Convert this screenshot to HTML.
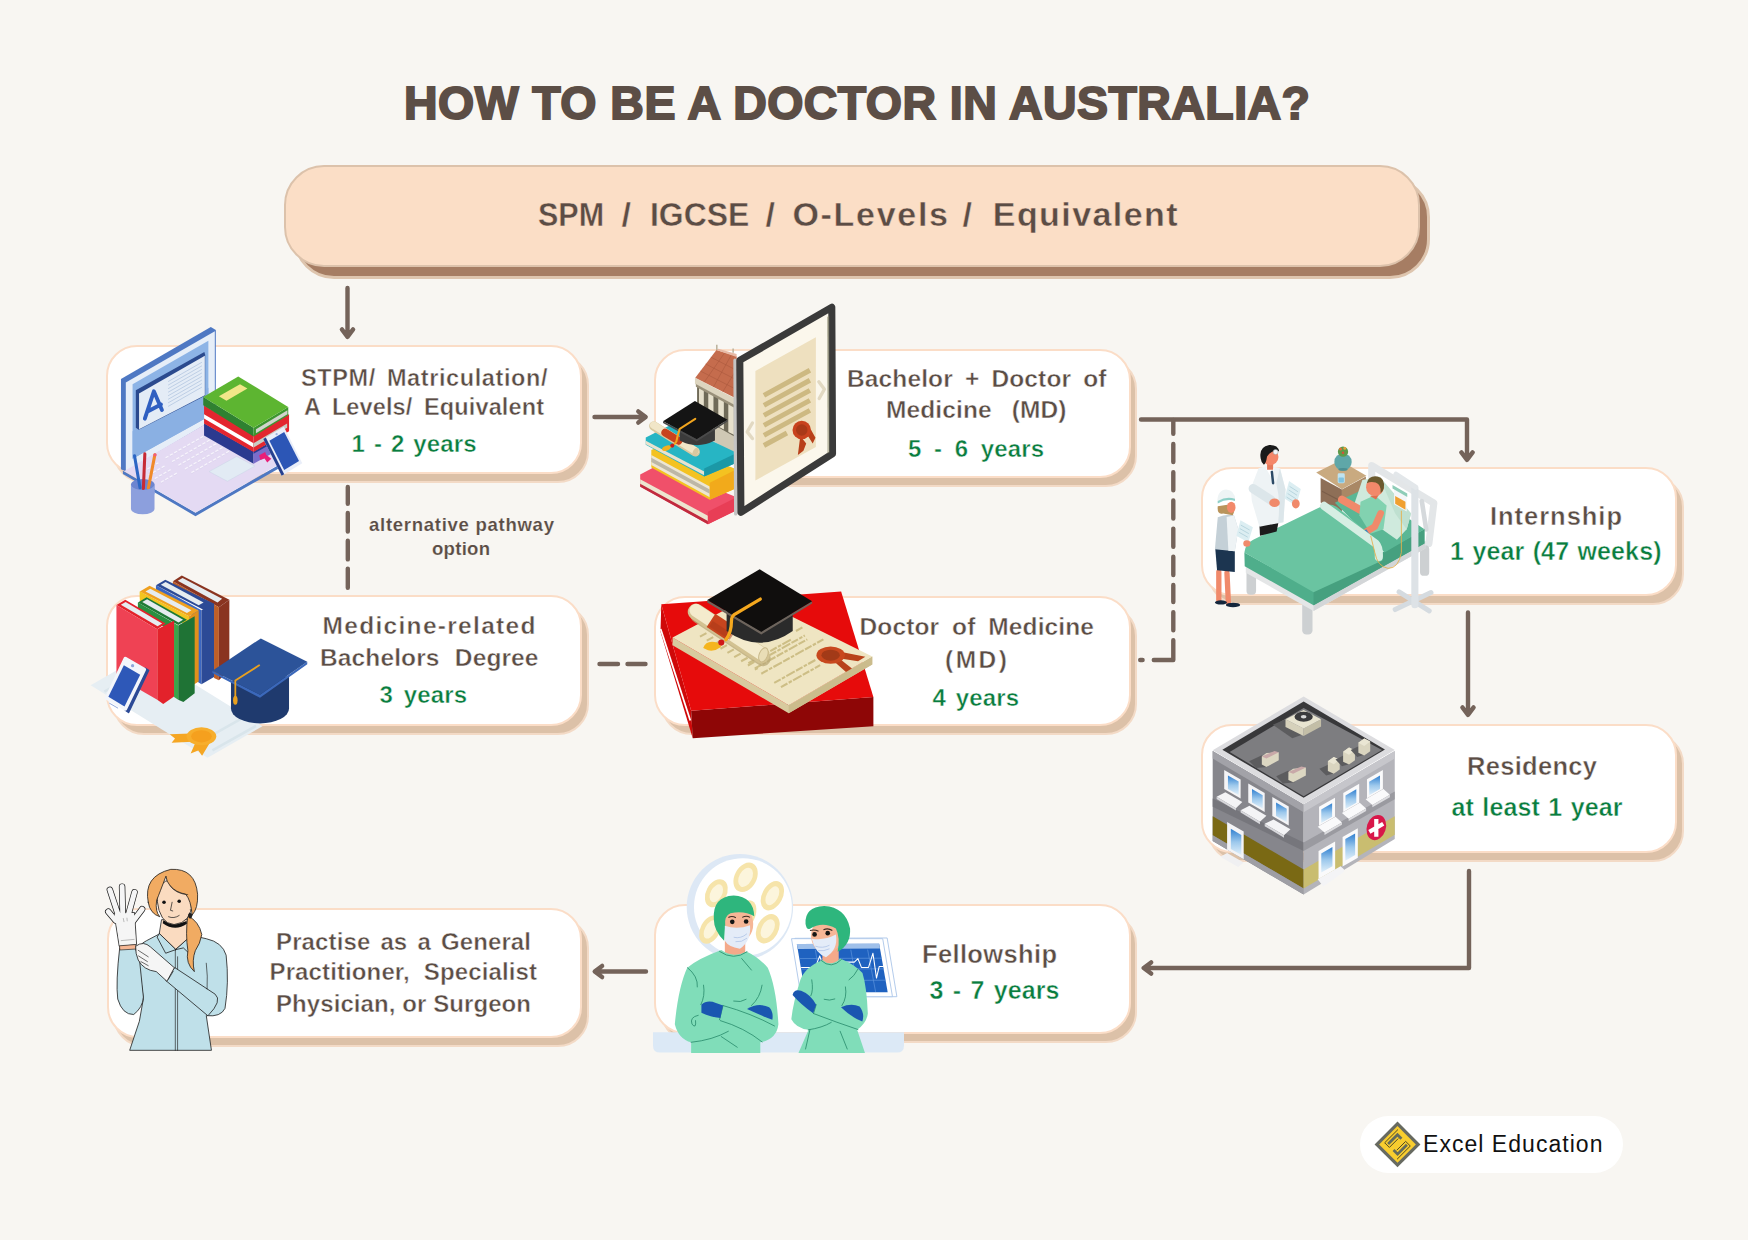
<!DOCTYPE html>
<html lang="en"><head><meta charset="utf-8"><title>How to be a doctor in Australia?</title>
<style>
html,body{margin:0;padding:0}
body{width:1748px;height:1240px;overflow:hidden;background:#F8F6F2;font-family:"Liberation Sans", sans-serif;position:relative}
.t{position:absolute;white-space:nowrap;line-height:1;margin:0}
.card{position:absolute;box-sizing:border-box;background:#fff;border:2px solid #FBDDC7;border-radius:31px}
.cs{position:absolute;box-sizing:border-box;background:#DCC1A8;border:2px solid #F3DAC6;border-radius:31px}
.ill{position:absolute;overflow:visible}
#topS{position:absolute;box-sizing:border-box;left:294px;top:177px;width:1136px;height:102px;border-radius:40px;background:#A67D63;border:3px solid #DEC5AE}
#top{position:absolute;box-sizing:border-box;left:284px;top:165px;width:1136px;height:102px;border-radius:40px;background:#FBDEC6;border:2.5px solid #DCC2AB}
#logo{position:absolute;left:1360px;top:1116px;width:263px;height:57px;border-radius:29px;background:#fff}
</style></head><body>
<div id="topS"></div><div id="top"></div>
<div class="cs" style="left:112.5px;top:353.5px;width:476px;height:129px"></div><div class="card" style="left:106px;top:344.5px;width:476px;height:129px"></div>
<div class="cs" style="left:660.5px;top:357.5px;width:476.5px;height:129px"></div><div class="card" style="left:654px;top:348.5px;width:476.5px;height:129px"></div>
<div class="cs" style="left:112.5px;top:604px;width:476px;height:130.5px"></div><div class="card" style="left:106px;top:595px;width:476px;height:130.5px"></div>
<div class="cs" style="left:660.5px;top:605px;width:476.5px;height:130px"></div><div class="card" style="left:654px;top:596px;width:476.5px;height:130px"></div>
<div class="cs" style="left:1207.5px;top:476px;width:476px;height:129px"></div><div class="card" style="left:1201px;top:467px;width:476px;height:129px"></div>
<div class="cs" style="left:1207.5px;top:732.5px;width:476px;height:129px"></div><div class="card" style="left:1201px;top:723.5px;width:476px;height:129px"></div>
<div class="cs" style="left:660.5px;top:913px;width:476.5px;height:129.5px"></div><div class="card" style="left:654px;top:904px;width:476.5px;height:129.5px"></div>
<div class="cs" style="left:113.0px;top:917px;width:475.5px;height:129.5px"></div><div class="card" style="left:106.5px;top:908px;width:475.5px;height:129.5px"></div>
<div id="logo"></div>
<svg class="ill" style="left:0;top:0" width="1748" height="1240" viewBox="0 0 1748 1240" fill="none" stroke="#74635A" stroke-width="4.4" stroke-linecap="round" stroke-linejoin="round">
<path d="M347.5 288V336M341.9 329.4L347.5 336.8L353.1 329.4"/>
<path d="M594.5 417H645M638.3 411.4L645.7 417L638.3 422.6"/>
<path d="M1141 419.5H1467V459M1461.4 452.4L1467 459.8L1472.6 452.4"/>
<path d="M1468 612.5V714M1462.4 707.4L1468 714.8L1473.6 707.4"/>
<path d="M1469 871V968H1144.5M1151.1 962.4L1143.7 968L1151.1 973.6"/>
<path d="M646 971.5H595.5M602.1 965.9L594.7 971.5L602.1 977.1"/>
<path d="M347.8 487V503.8M347.8 513V531.6M347.8 540.8V559.4M347.8 568.6V587.8"/>
<path d="M599.5 664H618M627.5 664H645.5"/>
<path d="M1173.3 420V433.8M1173.3 444V462.1M1173.3 472.2V490.3M1173.3 500.4V518.5M1173.3 528.6V546.7M1173.3 556.8V575M1173.3 585V602.1M1173.3 612.2V630.3M1173.3 640.3V660H1153.8M1142.6 660H1140.2"/>
</svg>
<svg class="ill" style="left:110px;top:320px" width="200" height="200" viewBox="0 0 1240 1240">
<!-- screen frame -->
<polygon points="68,366 625,44 656,62 656,610 100,940 68,925" fill="#4E78C3"/>
<polygon points="98,388 650,70 650,612 98,938" fill="#E6EEF8"/>
<polygon points="140,398 610,128 610,600 140,860" fill="#8DB4E6"/>
<polygon points="140,690 610,420 610,600 140,860" fill="#8AB0E3"/>
<!-- doc window -->
<polygon points="160,436 585,198 590,216 590,470 178,680 160,668" fill="#2B4A8E"/>
<polygon points="180,455 588,222 588,466 180,678" fill="#E4ECF6"/>
<g stroke="#A8BEDB" stroke-width="4" fill="none">
<path d="M360 382L570 262M360 404L570 284M360 426L570 306M360 448L570 328M360 470L570 350M360 492L570 372M360 514L570 394M360 536L570 416"/>
</g>
<path d="M216 612L272 442L322 558M236 566L316 524" stroke="#2F5FC1" stroke-width="24" stroke-linecap="round" stroke-linejoin="round" fill="none"/>
<!-- base -->
<polygon points="80,935 530,1195 1100,868 1100,890 530,1216 80,955" fill="#4E78C3"/>
<polygon points="100,930 650,612 1095,868 530,1194 88,938" fill="#E4DAF3"/>
<!-- keyboard -->
<g stroke="#F7F4FC" stroke-width="9" fill="none" stroke-dasharray="20 11">
<path d="M345 855L585 718M385 878L625 741M425 901L665 764M465 924L705 787M505 947L745 810"/>
<path d="M205 940L300 886M240 962L340 905M278 984L378 927M316 1006L416 949"/>
</g>
<g stroke="#CFC8E6" stroke-width="2.5" fill="none" stroke-dasharray="20 11">
<path d="M345 861L585 724M385 884L625 747M425 907L665 770M465 930L705 793M505 953L745 816"/>
<path d="M205 946L300 892M240 968L340 911M278 990L378 933M316 1012L416 955"/>
</g>
<polygon points="615,940 785,846 898,906 728,1000" fill="#E2EBF4" stroke="#C9D3E6" stroke-width="3"/>
<!-- books -->
<polygon points="583,640 890,815 890,892 583,716" fill="#2B3A8F"/>
<polygon points="890,815 1010,748 1010,824 890,892" fill="#7B6DCB"/>
<polygon points="890,815 1010,748 1010,762 890,830" fill="#2B3A8F"/>
<polygon points="925,838 962,818 968,836 1000,860 975,884 958,858 932,868" fill="#E91E78"/>
<polygon points="583,530 890,712 890,818 583,642" fill="#E3262F"/>
<polygon points="583,584 890,764 890,790 583,610" fill="#FFFFFF"/>
<polygon points="890,712 1110,585 1110,690 890,818" fill="#E3262F"/>
<polygon points="890,764 1098,642 1098,668 890,790" fill="#C9CCC4"/>
<polygon points="578,478 890,668 890,722 578,528" fill="#2F8131"/>
<polygon points="890,668 1105,540 1105,590 890,722" fill="#3C962E"/>
<polygon points="905,678 1100,560 1100,584 905,702" fill="#D0D5CC"/>
<polygon points="578,478 795,350 1105,540 890,668" fill="#5DB531"/>
<polygon points="675,472 806,398 852,424 722,500" fill="#F1E689"/>
<!-- phone -->
<polygon points="950,738 1078,662 1192,888 1064,966" fill="#E9EEF9"/>
<polygon points="950,738 966,729 1080,956 1064,966" fill="#26408F"/>
<polygon points="988,748 1080,694 1172,874 1080,930" fill="#2C56B6"/>
<circle cx="1033" cy="708" r="7" fill="#9DB2DD"/>
<!-- cup + pencils -->
<path d="M130 1020V1170A72 34 0 0 0 276 1170V1020Z" fill="#8C9FDD"/>
<ellipse cx="203" cy="1020" rx="73" ry="34" fill="#6C84D0"/>
<path d="M152 842L186 1040" stroke="#2C66C4" stroke-width="19" stroke-linecap="round"/>
<path d="M216 830L207 1045" stroke="#C62A36" stroke-width="19" stroke-linecap="round"/>
<path d="M278 836L238 1042" stroke="#F08A2A" stroke-width="19" stroke-linecap="round"/>
<circle cx="279" cy="836" r="10" fill="#F25C7A"/>
<path d="M130 1020A73 34 0 0 0 276 1020V1080H130Z" fill="#8C9FDD"/>
</svg>

<svg class="ill" style="left:630px;top:295px" width="230" height="230" viewBox="0 0 1240 1240">
<!-- temple -->
<polygon points="362,490 575,602 575,860 362,740" fill="#CFC8B4"/><polygon points="362,490 575,602 575,770 362,650" fill="#6F6A58"/>
<g fill="#E6E0CC">
<polygon points="372,496 398,510 398,668 372,654"/><polygon points="422,522 450,537 450,695 422,680"/>
<polygon points="476,551 506,567 506,725 476,709"/><polygon points="530,580 560,596 560,754 530,738"/>
</g>
<polygon points="350,446 575,562 575,600 350,480" fill="#DDD5BF"/>
<polygon points="355,480 575,598 575,614 355,494" fill="#9A917A"/>
<polygon points="352,446 466,296 575,330 575,560" fill="#C56C4D"/>
<g stroke="#A9563B" stroke-width="3" fill="none"><path d="M380,410 575,510M408,372 575,458M436,335 575,406M400,470 510,312M450,496 545,325M500,522 575,400"/></g>
<polygon points="466,296 476,290 575,318 575,334" fill="#E7B9A5"/>
<path d="M468 296V268M556 312V288" stroke="#B9B09A" stroke-width="8"/>
<!-- red book -->
<polygon points="55,968 150,918 575,1090 575,1160 420,1236 55,1032" fill="#F0506A"/>
<polygon points="55,994 420,1190 420,1222 55,1022" fill="#EDE5D0"/>
<polygon points="55,1018 420,1218 420,1236 55,1034" fill="#C12A3E"/>
<polygon points="420,1168 575,1090 575,1160 420,1236" fill="#E83E56"/>
<!-- yellow book -->
<polygon points="115,836 200,795 575,940 575,1040 430,1104 115,930" fill="#F4C221"/>
<polygon points="115,862 430,1032 430,1090 115,916" fill="#EDE6D2"/>
<polygon points="115,878 430,1048 430,1072 115,900" fill="#BDB7A6"/>
<polygon points="430,1012 575,940 575,1040 430,1104" fill="#F2AA1B"/>
<!-- teal book -->
<polygon points="85,768 240,690 575,850 575,905 400,978 85,808" fill="#27B5C4"/>
<polygon points="85,786 400,952 400,972 85,804" fill="#EAE2CE"/>
<polygon points="400,936 575,852 575,905 400,978" fill="#1B98A6"/>
<!-- scroll -->
<path d="M128 706L352 846" stroke="#D8C9A0" stroke-width="50" stroke-linecap="round"/>
<path d="M128 702L352 840" stroke="#F1E6C8" stroke-width="40" stroke-linecap="round"/>
<path d="M190 742L262 786" stroke="#C8421E" stroke-width="42" stroke-linecap="round"/>
<ellipse cx="354" cy="845" rx="14" ry="22" transform="rotate(30 354 845)" fill="#D9C8A0"/>
<!-- cap -->
<path d="M268 725V785Q360 835 458 785V725Z" fill="#3B3B3B"/>
<polygon points="178,680 350,572 526,672 360,778" fill="#141414"/>
<polygon points="178,680 360,778 526,672 526,682 360,790 178,690" fill="#4A4A4A"/>
<path d="M352 668L268 722Q255 760 250 790Q235 815 205 822" stroke="#F2A51E" stroke-width="11" fill="none" stroke-linecap="round"/>
<ellipse cx="196" cy="826" rx="24" ry="13" transform="rotate(-20 196 826)" fill="#F2B01E"/>
<circle cx="228" cy="812" r="11" fill="#C8201E"/>
<!-- tablet -->
<path d="M566 352L570 1180" stroke="#C4C4C4" stroke-width="18" stroke-linecap="round"/>
<polygon points="592,352 1088,66 1092,856 598,1172" fill="#FBF7EC" stroke="#3A3A3A" stroke-width="38" stroke-linejoin="round"/>
<polygon points="1062,118 1074,110 1076,848 1064,856" fill="#8C8A6E" opacity=".55"/>
<polygon points="676,410 1002,228 1002,820 676,1000" fill="#EEE0BF"/>
<g stroke="#CDB982" stroke-width="27" fill="none">
<path d="M722 541L970 406M722 595L970 460M722 649L970 514M722 703L970 568M722 757L970 622M722 811L846 744"/>
</g>
<path d="M918 760L905 862L935 840L950 800ZM950 745L985 800L1000 770L975 725Z" fill="#B8401A"/>
<circle cx="926" cy="728" r="50" fill="#C8421E"/>
<circle cx="926" cy="728" r="31" fill="#A93918"/>
<path d="M660 690L632 738L660 774" stroke="#E2D9C2" stroke-width="18" fill="none" stroke-linecap="round" stroke-linejoin="round"/>
<path d="M1018 468L1048 508L1020 558" stroke="#E2D9C2" stroke-width="18" fill="none" stroke-linecap="round" stroke-linejoin="round"/>
</svg>

<svg class="ill" style="left:85px;top:565px" width="230" height="200" viewBox="0 0 1426 1240">
<!-- paper -->
<polygon points="35,745 375,550 1100,1000 760,1195" fill="#E6EEF3"/>
<g stroke="#D9E5EB" stroke-width="16" fill="none"><path d="M120 785L455 595M700 1105L1000 935M790 1150L1060 998"/></g>
<!-- brown -->
<polygon points="545,100 800,245 800,300 545,155" fill="#BF5F28"/>
<polygon points="545,100 600,65 895,215 830,262" fill="#8A3420"/><polygon points="575,98 605,80 850,210 822,232" fill="#E6ECF0"/>
<polygon points="800,245 830,262 830,715 800,700" fill="#BF5F28"/><polygon points="830,262 895,215 895,650 830,715" fill="#8A3420"/>
<!-- blue -->
<polygon points="440,125 700,268 700,330 440,185" fill="#3B67C2"/>
<polygon points="440,125 498,92 800,240 740,280" fill="#2C4A96"/><polygon points="470,122 500,105 735,232 705,250" fill="#E6ECF0"/>
<polygon points="700,268 722,280 722,740 700,725" fill="#3B67C2"/><polygon points="722,280 800,238 800,695 722,740" fill="#2C4A96"/>
<!-- orange -->
<polygon points="340,165 645,318 645,380 340,225" fill="#F3C41F"/>
<polygon points="340,165 400,128 705,282 645,318" fill="#EFA01F"/><polygon points="375,165 405,148 660,280 632,298" fill="#E6ECF0"/>
<polygon points="340,165 372,183 372,226 340,208" fill="#F3C41F"/>
<polygon points="645,318 705,282 705,722 645,760" fill="#E0901C"/>
<!-- green -->
<polygon points="328,232 552,360 552,420 328,290" fill="#2A9040"/>
<polygon points="328,232 382,200 632,340 578,372" fill="#1F7A35"/><polygon points="355,230 385,213 608,340 580,357" fill="#E6ECF0"/>
<polygon points="552,360 578,375 578,835 552,818" fill="#3AA64A"/><polygon points="578,375 680,318 680,795 610,850 578,835" fill="#1F7335"/>
<!-- red -->
<polygon points="448,398 552,345 552,815 485,862 448,835" fill="#E3222B"/>
<polygon points="195,248 250,215 500,362 448,398" fill="#E3222B"/><polygon points="222,246 252,229 478,362 450,380" fill="#E6ECF0"/>
<polygon points="195,248 448,398 448,835 195,690" fill="#EF4254"/>
<!-- phone -->
<polygon points="372,640 394,654 270,914 250,900" fill="#2C4A96" stroke="#2C4A96" stroke-width="10" stroke-linejoin="round"/>
<polygon points="250,580 368,648 250,892 134,824" fill="#F3F6FB" stroke="#F3F6FB" stroke-width="22" stroke-linejoin="round"/>
<polygon points="241,622 342,681 245,878 145,817" fill="#2E58B8"/>
<circle cx="295" cy="624" r="10" fill="#8FA6DA"/>
<path d="M150 856L205 888" stroke="#8FA6DA" stroke-width="6"/>
<!-- cap -->
<path d="M905 720V890A180 92 0 0 0 1265 890V690Z" fill="#1F3A6E"/>
<polygon points="790,655 1085,805 1378,600 1378,616 1085,823 790,670" fill="#3B68BA"/>
<polygon points="790,655 1090,455 1378,600 1085,805" fill="#2C5399"/>
<path d="M1080 622L932 716V815" stroke="#E8A020" stroke-width="11" fill="none" stroke-linecap="round" stroke-linejoin="round"/>
<ellipse cx="932" cy="838" rx="14" ry="28" fill="#E8A020"/>
<!-- badge -->
<polygon points="655,1045 525,1050 558,1076 537,1102 665,1096" fill="#F5A623"/>
<polygon points="690,1090 655,1168 702,1150 726,1182 775,1100" fill="#F5A623"/>
<ellipse cx="722" cy="1062" rx="92" ry="56" fill="#F7AE2C"/>
<ellipse cx="722" cy="1062" rx="64" ry="38" fill="#F5A01E"/>
</svg>

<svg class="ill" style="left:650px;top:560px" width="230" height="200" viewBox="0 0 1426 1240">
<!-- red book -->
<polygon points="70,275 255,935 265,1105 65,445" fill="#CF0909"/>
<path d="M66 428L250 995" stroke="#FFFFFF" stroke-width="11"/>
<polygon points="255,935 1385,850 1385,1030 265,1105" fill="#8E0606"/>
<polygon points="70,275 1185,195 1385,850 255,935" fill="#E60B0B"/>
<!-- document -->
<polygon points="140,480 860,900 1378,598 1378,648 860,950 140,528" fill="#D8CA9E"/>
<polygon points="860,900 1378,598 1378,648 860,950" fill="#CBBC8C"/>
<polygon points="140,480 625,225 1378,598 860,900" fill="#EFE5C2"/>
<g stroke="#CDBE86" stroke-width="13" fill="none" stroke-dasharray="46 9 22 9 60 9">
<path d="M690 705L1075 492M650 672L975 492M610 640L880 490M770 762L1025 620M812 788L1055 652M742 590L960 468M905 440L945 418"/>
</g>
<g stroke="#CDBE86" stroke-width="13" fill="none">
<path d="M310 475L350 453M352 500L392 478M395 525L435 503M437 550L477 528M480 576L520 554M522 602L562 580M565 628L605 606M607 654L647 632M650 680L668 670"/>
</g>
<!-- seal -->
<polygon points="1195,572 1335,600 1290,628 1190,612" fill="#B8421A"/>
<polygon points="1140,628 1215,695 1252,672 1180,615" fill="#B8421A"/>
<ellipse cx="1120" cy="590" rx="88" ry="54" fill="#C8481E"/>
<ellipse cx="1120" cy="590" rx="57" ry="34" fill="#A23A18"/>
<!-- scroll -->
<path d="M300 345L700 610" stroke="#B9A878" stroke-width="96" stroke-linecap="round" opacity=".75"/>
<path d="M285 322L690 590" stroke="#D3C292" stroke-width="102" stroke-linecap="round"/>
<path d="M285 312L690 580" stroke="#F4EBCD" stroke-width="80" stroke-linecap="round"/>
<path d="M378 375L505 458" stroke="#C8451E" stroke-width="98" stroke-linecap="butt"/>
<path d="M378 395L505 478" stroke="#A8391A" stroke-width="40" stroke-linecap="butt" opacity=".5"/>
<ellipse cx="703" cy="588" rx="26" ry="46" transform="rotate(22 703 588)" fill="#E9DDB6" stroke="#C9B98A" stroke-width="6"/>
<!-- cap -->
<path d="M475 320V440Q680 585 885 440V330Z" fill="#2B2B2B"/>
<polygon points="355,248 690,445 1005,255 1005,270 690,462 355,263" fill="#6D645C"/>
<polygon points="355,248 680,58 1005,255 690,445" fill="#100E0D"/>
<path d="M684 242L522 338Q505 350 505 380Q505 450 470 495" stroke="#F5A81E" stroke-width="20" fill="none" stroke-linecap="round"/>
<path d="M330 545Q345 500 400 508Q440 515 440 540Q400 570 360 560Z" fill="#F5B51E"/>
<circle cx="442" cy="512" r="19" fill="#D01818"/>
</svg>

<svg class="ill" style="left:1200px;top:430px" width="250" height="220" viewBox="0 0 1409 1240">
<!-- nightstand -->
<polygon points="680,270 800,336 800,470 680,408" fill="#8E6F57"/>
<polygon points="800,336 935,262 935,345 800,425" fill="#A98865"/>
<polygon points="655,240 790,172 938,258 800,334" fill="#C9AA80"/>
<path d="M688 345L795 402" stroke="#7A5E4A" stroke-width="6"/>
<rect x="776" y="244" width="40" height="56" rx="8" fill="#BFE3F0"/><rect x="781" y="268" width="30" height="28" rx="5" fill="#7FC3E0"/>
<circle cx="806" cy="180" r="49" fill="#5FA7A8"/><ellipse cx="806" cy="222" rx="26" ry="8" fill="#4C8F92"/>
<circle cx="806" cy="122" r="29" fill="#5E9A4A"/><circle cx="792" cy="108" r="8" fill="#E0703A"/><circle cx="816" cy="104" r="8" fill="#E8A03A"/><circle cx="806" cy="128" r="7" fill="#D8503A"/>
<!-- headboard -->
<path d="M968 430V200L1318 412L1290 640" stroke="#E3E6E8" stroke-width="40" fill="none" stroke-linejoin="round" stroke-linecap="round"/>
<path d="M1250 400L1275 560" stroke="#D5D9DC" stroke-width="26" stroke-linecap="round"/>
<!-- legs -->
<rect x="1240" y="650" width="52" height="172" rx="22" fill="#CDD0D2"/>
<rect x="262" y="760" width="54" height="168" rx="22" fill="#CDD0D2"/>
<rect x="576" y="960" width="58" height="192" rx="24" fill="#CDD0D2"/>
<!-- frame -->
<polygon points="258,760 640,975 1270,625 1270,668 640,1020 258,805" fill="#E4E6E7"/>
<polygon points="640,975 1270,625 1270,668 640,1020" fill="#D3D6D8"/>
<!-- mattress -->
<path d="M250 690L640 908L1265 560V640L640 988L252 768Z" fill="#4FAE8B"/>
<path d="M640 908L1265 560V640L640 988Z" fill="#46A07F"/>
<polygon points="760,410 930,330 1265,560 1040,690" fill="#5AB795"/>
<!-- pillow -->
<polygon points="915,282 1010,262 1190,470 1165,560 1110,618 1010,548 872,410" fill="#CFEADD"/>
<polygon points="1010,262 1190,470 1165,560 1100,470" fill="#BFE0D0"/>
<!-- patient -->
<path d="M800 392L905 452" stroke="#F08A6B" stroke-width="44" stroke-linecap="round"/>
<polygon points="905,405 985,368 1052,425 1034,560 962,585 898,480" fill="#82D2B0"/>
<path d="M1018 470L985 545L905 592" stroke="#F08A6B" stroke-width="38" fill="none" stroke-linecap="round" stroke-linejoin="round"/>
<path d="M928 566L948 596" stroke="#3F7FC0" stroke-width="22"/>
<path d="M958 372L992 392L1010 362Z" fill="#E0704F"/>
<circle cx="986" cy="322" r="50" fill="#F2896A"/>
<path d="M940 300Q950 255 1000 262Q1045 270 1036 330Q1030 350 1018 356Q1024 310 990 296Q960 290 940 300Z" fill="#6B5A2E"/>
<!-- blanket -->
<path d="M250 690Q255 640 300 618L690 428Q730 410 770 432L1005 628Q1030 650 1028 700V735L640 915Z" fill="#6AC4A1"/>
<path d="M700 428L990 640Q1010 660 1008 715" stroke="#D6EEE3" stroke-width="46" fill="none" stroke-linecap="round"/>
<!-- IV -->
<path d="M1122 912L1292 1020M1100 1012L1302 916" stroke="#D5DBE0" stroke-width="28" stroke-linecap="round"/>
<path d="M1211 330V985" stroke="#DDE2E6" stroke-width="40" stroke-linecap="round"/>
<path d="M1105 250L1215 322" stroke="#E3E7EA" stroke-width="30" stroke-linecap="round"/>
<polygon points="1094,330 1165,372 1165,460 1094,418" fill="#F4F6F8"/>
<polygon points="1100,372 1158,405 1158,450 1100,416" fill="#F0A030"/>
<polygon points="1085,310 1168,358 1168,378 1085,330" fill="#8FCDB8"/>
<path d="M1135 455V690Q1120 780 1060 780Q1000 770 985 690L962 596" stroke="#E5B04E" stroke-width="5" fill="none"/>
<!-- doctor -->
<polygon points="335,540 442,522 432,572 338,596" fill="#1C1C1C"/>
<path d="M330 215Q390 195 452 215L482 335L470 520L335 545L292 400L286 330Z" fill="#EEF3F5"/>
<path d="M450 215L482 335L470 520L440 524Q455 400 430 300Z" fill="#DCE6EA"/>
<path d="M300 330L400 395" stroke="#DCE6EA" stroke-width="52" stroke-linecap="round"/>
<path d="M372 215L398 262L420 215Z" fill="#FFFFFF"/>
<path d="M405 236L412 300" stroke="#2C4A66" stroke-width="14" stroke-linecap="round"/>
<polygon points="502,288 568,332 542,428 476,386" fill="#DCEEF2"/>
<g stroke="#A9CBD6" stroke-width="4"><path d="M505 318L552 348M500 338L547 368M494 358L541 388M488 378L535 408"/></g>
<ellipse cx="420" cy="410" rx="30" ry="24" fill="#F08A6B"/><ellipse cx="540" cy="416" rx="22" ry="26" fill="#F08A6B"/>
<rect x="378" y="180" width="34" height="44" fill="#E67A5C"/>
<circle cx="396" cy="152" r="46" fill="#F4876A"/>
<path d="M342 160Q330 95 390 84Q440 82 446 120Q400 110 378 150Q372 190 360 196Q345 185 342 160Z" fill="#1A1A1A"/>
<circle cx="426" cy="124" r="14" fill="#F4F6F8" stroke="#9AA" stroke-width="3"/>
<!-- nurse -->
<path d="M106 800V960M152 806L160 975" stroke="#F08A6B" stroke-width="30" stroke-linecap="round"/>
<ellipse cx="118" cy="972" rx="34" ry="12" fill="#14263C"/><ellipse cx="186" cy="986" rx="40" ry="13" fill="#14263C"/>
<polygon points="86,668 196,680 196,800 96,790" fill="#1C3550"/>
<path d="M100 492Q150 470 192 482L216 560L196 684L84 672Z" fill="#C4D0D7"/>
<path d="M150 490L192 482L216 560L196 684L160 680Z" fill="#EEF3F5"/>
<polygon points="228,508 298,548 272,634 205,596" fill="#DCEEF2"/>
<g stroke="#A9CBD6" stroke-width="4"><path d="M230 536L280 564M225 556L275 584M219 576L269 604"/></g>
<ellipse cx="264" cy="640" rx="20" ry="18" fill="#F08A6B"/>
<path d="M100 430Q95 480 130 470L185 480Q200 450 190 415Z" fill="#B9945B"/>
<ellipse cx="176" cy="436" rx="24" ry="32" fill="#F2896A"/>
<path d="M98 410Q95 340 148 336Q198 340 198 395Q150 380 98 410Z" fill="#EEF4F5"/>
<path d="M100 400Q150 372 197 388V400Q150 385 100 414Z" fill="#8FD0C8"/>
</svg>

<svg class="ill" style="left:1200px;top:690px" width="210" height="210" viewBox="0 0 1240 1240">
<defs>
<linearGradient id="gl" x1="0" y1="0" x2="0" y2="1"><stop offset="0" stop-color="#2F7FD0"/><stop offset=".5" stop-color="#9CC8EC"/><stop offset="1" stop-color="#E2F0FA"/></linearGradient>
</defs>
<!-- walls -->
<polygon points="75,360 612,676 612,1208 75,892" fill="#86868C"/>
<polygon points="612,676 1150,360 1150,880 612,1208" fill="#B4B4BA"/>
<polygon points="75,360 612,676 612,722 75,405" fill="#A2A2A8"/>
<polygon points="612,676 1150,360 1150,405 612,722" fill="#C6C6CB"/>
<polygon points="75,640 612,900 612,950 75,690" fill="#76767C"/>
<polygon points="612,900 1150,600 1150,645 612,950" fill="#9A9AA0"/>
<polygon points="75,745 612,1060 612,1172 75,858" fill="#7A6914"/>
<polygon points="612,1060 1150,745 1150,855 612,1172" fill="#C9BD70"/>
<polygon points="75,858 612,1172 612,1208 75,892" fill="#9E9EA4"/>
<!-- roof -->
<polygon points="75,356 612,38 1150,354 612,674" fill="#DCDCDF"/>
<polygon points="132,353 612,68 1092,352 612,636" fill="#38383A"/>
<polygon points="175,366 612,106 1075,354 612,628" fill="#7D7D80"/>
<!-- AC -->
<polygon points="430,205 505,172 612,262 545,285" fill="#5C5C5E"/>
<polygon points="505,172 612,228 612,272 505,218" fill="#D6D1BB"/><polygon points="612,228 715,172 715,216 612,272" fill="#C3BEA7"/>
<polygon points="505,172 612,118 715,172 612,228" fill="#E8E4D0"/>
<ellipse cx="612" cy="158" rx="54" ry="30" fill="#3A3A3C"/><ellipse cx="612" cy="158" rx="17" ry="10" fill="#D8D8D8"/>
<!-- vents -->
<polygon points="290,420 365,385 400,455 330,460" fill="#5C5C5E"/>
<polygon points="365,392 392,372 465,368 465,415 392,455 365,440" fill="#DCD7C2"/><polygon points="365,392 440,360 465,368 392,405" fill="#C8A8A8"/>
<polygon points="450,510 522,475 560,545 490,552" fill="#5C5C5E"/>
<polygon points="522,484 550,465 625,458 625,505 550,545 522,532" fill="#DCD7C2"/><polygon points="522,484 598,452 625,458 550,495" fill="#C8A8A8"/>
<g>
<polygon points="705,465 760,440 800,490 745,505" fill="#5C5C5E"/><polygon points="755,420 790,395 825,412 825,470 790,495 755,478" fill="#DAD5C0"/><polygon points="755,420 790,395 825,412 790,438" fill="#EAE6D4"/>
<polygon points="800,410 850,385 890,435 838,450" fill="#5C5C5E"/><polygon points="845,365 880,340 915,357 915,415 880,440 845,423" fill="#DAD5C0"/><polygon points="845,365 880,340 915,357 880,383" fill="#EAE6D4"/>
<polygon points="890,355 940,330 980,380 928,395" fill="#5C5C5E"/><polygon points="935,312 970,287 1005,304 1005,362 970,387 935,370" fill="#DAD5C0"/><polygon points="935,312 970,287 1005,304 970,330" fill="#EAE6D4"/>
</g>
<!-- left windows -->
<g id="wl">
<polygon points="143,472 240,528 240,640 143,584" fill="#F4F4F6"/><polygon points="165,505 228,541 228,620 165,584" fill="url(#gl)"/>
<polygon points="98,630 150,604 250,662 212,698" fill="#F4F4F6"/><polygon points="98,630 212,698 212,712 98,644" fill="#D8D8DC"/>
</g>
<use href="#wl" transform="translate(142,80)"/><use href="#wl" transform="translate(284,160)"/>
<!-- left door -->
<polygon points="160,780 258,836 258,1000 160,944" fill="#F4F4F6"/><polygon points="182,820 244,856 244,975 182,939" fill="url(#gl)"/>
<polygon points="120,985 160,962 258,1018 225,1045" fill="#F0F0F2"/>
<!-- right windows -->
<g id="wr">
<polygon points="703,690 797,636 797,748 703,802" fill="#FAFAFB"/><polygon points="716,705 780,668 780,748 716,785" fill="url(#gl)"/>
<polygon points="695,808 800,748 838,782 735,842" fill="#FAFAFB"/><polygon points="735,842 838,782 838,796 735,856" fill="#DDDDE0"/>
</g>
<use href="#wr" transform="translate(143,-82)"/><use href="#wr" transform="translate(283,-163)"/>
<!-- right doors -->
<polygon points="700,950 798,894 798,1060 700,1116" fill="#FAFAFB"/><polygon points="716,965 782,927 782,1040 716,1078" fill="url(#gl)"/>
<polygon points="842,868 932,816 932,990 842,1042" fill="#FAFAFB"/><polygon points="858,880 916,847 916,975 858,1008" fill="url(#gl)"/>
<polygon points="695,1118 830,1040 850,1058 850,1075 728,1160" fill="#F4F4F6"/>
<!-- cross -->
<ellipse cx="1041" cy="812" rx="56" ry="76" transform="rotate(18 1041 812)" fill="#D8184A"/>
<path d="M1000 838L1082 790M1041 762V866" stroke="#FFFFFF" stroke-width="25"/>
</svg>

<svg class="ill" style="left:645px;top:845px" width="270" height="220" viewBox="0 0 1522 1240">
<!-- platform -->
<path d="M45 1055H1460V1130Q1460 1170 1420 1170H85Q45 1170 45 1130Z" fill="#DCE9F6"/>
<!-- lamp -->
<circle cx="535" cy="350" r="300" fill="#DDE8F5"/>
<circle cx="552" cy="350" r="276" fill="#FFFFFF"/>
<g fill="#F6E4AA">
<ellipse cx="567" cy="182" rx="62" ry="88" transform="rotate(28 567 182)"/><ellipse cx="402" cy="272" rx="58" ry="84" transform="rotate(28 402 272)"/>
<ellipse cx="718" cy="286" rx="58" ry="88" transform="rotate(28 718 286)"/><ellipse cx="692" cy="472" rx="60" ry="88" transform="rotate(28 692 472)"/>
<ellipse cx="368" cy="476" rx="55" ry="86" transform="rotate(28 368 476)"/><ellipse cx="560" cy="400" rx="58" ry="95" transform="rotate(28 560 400)"/>
</g>
<g fill="#FCF5DC">
<ellipse cx="567" cy="182" rx="36" ry="58" transform="rotate(28 567 182)"/><ellipse cx="402" cy="272" rx="32" ry="54" transform="rotate(28 402 272)"/>
<ellipse cx="718" cy="286" rx="32" ry="58" transform="rotate(28 718 286)"/><ellipse cx="692" cy="472" rx="34" ry="58" transform="rotate(28 692 472)"/>
<ellipse cx="368" cy="476" rx="30" ry="56" transform="rotate(28 368 476)"/>
</g>
<!-- monitor -->
<polygon points="845,526 1365,524 1420,855 900,855" fill="#FFFFFF" stroke="#A9C4E8" stroke-width="5"/>
<polygon points="826,528 1340,528 1395,855 880,855" fill="#FFFFFF" stroke="#A9C4E8" stroke-width="5"/>
<polygon points="856,558 1320,556 1368,830 902,830" fill="#1F62C0"/>
<polygon points="856,558 1320,556 1325,584 861,586" fill="#9FC0EA"/>
<g stroke="#5C94DC" stroke-width="4" fill="none"><path d="M868 640L1336 638M880 700L1346 698M890 765L1358 762M960 590L1000 828M1060 590L1100 828M1160 590L1202 828M1255 590L1300 828"/></g>
<path d="M880 690H960L985 625L1010 705L1030 660H1180L1200 640L1220 690H1260L1285 610L1305 750L1320 685H1345" stroke="#FFFFFF" stroke-width="6" fill="none" stroke-linejoin="round"/>
<!-- surgeon 1 -->
<path d="M450 520H565V640H450Z" fill="#F4A98A"/>
<path d="M430 592Q300 640 238 692Q188 800 168 1010Q190 1095 260 1112V1172H650V1112Q742 1095 752 1010Q740 800 692 692Q640 632 572 600Q500 640 430 592Z" fill="#80DDB9"/>
<g stroke="#2F9272" stroke-width="5" fill="none" stroke-linecap="round">
<path d="M420 600Q500 655 575 602M545 640L600 705M240 692Q300 740 295 800M660 790Q650 860 600 905M330 790Q340 850 315 900M440 905Q600 950 730 1020M420 985L440 905M425 990Q560 1030 660 1110M300 960Q250 970 265 1010Q290 1040 285 990M500 880Q540 890 570 870M260 1112Q380 1100 470 1050M430 1080L520 1140"/>
</g>
<path d="M318 900Q350 870 400 890L440 905L425 975Q370 970 318 945Z" fill="#1A56B0"/>
<path d="M575 925Q640 885 700 915Q725 940 718 985Q650 960 575 925Z" fill="#1A56B0"/>
<ellipse cx="528" cy="445" rx="82" ry="102" fill="#F6B696"/>
<path d="M388 420Q378 290 500 284Q612 290 616 402Q560 368 482 384Q446 400 452 452L446 540Q388 482 388 420Z" fill="#2EB67D"/>
<path d="M450 455Q520 480 592 452Q600 540 535 585Q470 575 450 540Z" fill="#E4ECF8"/>
<path d="M500 520Q540 530 575 500M510 545Q545 550 575 525" stroke="#B5C8E8" stroke-width="5" fill="none"/>
<circle cx="492" cy="433" r="13" fill="#151515"/><circle cx="570" cy="431" r="13" fill="#151515"/>
<path d="M470 408Q492 398 512 410M548 408Q572 396 592 408" stroke="#3A2A22" stroke-width="6" fill="none"/>
<!-- surgeon 2 -->
<path d="M1000 580H1092V680H1000Z" fill="#F4A98A"/>
<path d="M1000 648Q900 690 875 762Q832 900 825 982Q850 1032 922 1042L865 1172H1240L1196 1042Q1250 1002 1256 950Q1250 800 1226 722Q1180 672 1100 640Q1050 690 1000 648Z" fill="#80DDB9"/>
<g stroke="#2F9272" stroke-width="5" fill="none" stroke-linecap="round">
<path d="M992 650Q1050 705 1108 645M940 760Q950 820 935 850M1150 760Q1180 740 1200 700M1130 800Q1140 860 1110 905M950 950Q1080 1000 1200 1040M965 900L950 950M1010 870Q1040 880 1070 868M920 1042Q1000 1030 1050 1000M930 1040L905 1150M1100 1050Q1120 1100 1140 1150"/>
</g>
<path d="M832 845Q840 810 880 822Q930 840 965 900L948 948Q880 900 832 845Z" fill="#1A56B0"/>
<path d="M1105 915Q1160 890 1210 910Q1240 950 1225 995Q1160 970 1105 915Z" fill="#1A56B0"/>
<ellipse cx="1022" cy="512" rx="86" ry="98" fill="#F6B696"/>
<path d="M905 445Q898 350 1010 344Q1130 350 1156 470Q1162 560 1086 602Q1102 522 1076 470Q1000 428 930 472Q912 482 905 445Z" fill="#2EB67D"/>
<path d="M940 528Q1010 540 1076 505Q1090 590 1020 632Q960 610 940 528Z" fill="#E4ECF8"/>
<path d="M960 570Q1000 585 1040 565M975 595Q1010 600 1040 585" stroke="#B5C8E8" stroke-width="5" fill="none"/>
<circle cx="956" cy="504" r="13" fill="#151515"/><circle cx="1030" cy="497" r="13" fill="#151515"/>
<path d="M930 482Q955 474 978 486M1006 478Q1032 466 1056 482" stroke="#3A2A22" stroke-width="6" fill="none"/>
</svg>

<svg class="ill" style="left:95px;top:860px" width="150" height="200" viewBox="0 0 930 1240">
<g stroke="#1E1E1E" stroke-width="5" stroke-linejoin="round" stroke-linecap="round">
<!-- torso -->
<path d="M400 458L320 500Q262 520 268 620L300 860L275 1000L215 1180H722L690 965Q780 975 806 920Q832 760 813 590Q790 510 690 488L600 468L500 556Z" fill="#BFE0E9"/>
<!-- left raised arm -->
<path d="M153 545Q128 760 141 862Q170 960 240 958Q296 915 300 850L276 620L250 548Z" fill="#BFE0E9"/>
<!-- neck -->
<path d="M415 370H582L600 470L500 556L400 460Z" fill="#FADBC0"/>
<path d="M420 392Q495 446 570 396L568 378Q495 412 424 374Z" fill="#111" stroke="none"/>
<!-- collar -->
<path d="M398 458L385 478L438 578L500 556Z" fill="#BFE0E9"/>
<path d="M600 468L612 490L585 580L548 545L500 556Z" fill="#BFE0E9"/>
<path d="M498 556V1180M512 600V1180" fill="none" stroke-width="4"/>
<!-- right forearm -->
<path d="M496 668L745 832Q792 872 700 966L440 748Z" fill="#BFE0E9"/>
<path d="M690 640Q700 720 695 800" fill="none" stroke-width="4"/>
<!-- ponytail -->
<path d="M575 345Q645 380 662 462Q652 520 622 562Q600 622 616 692Q560 642 576 562Q560 462 575 345Z" fill="#F1AB62"/>
<!-- face -->
<path d="M385 250Q380 130 480 120Q600 125 600 260Q600 390 490 400Q400 395 385 250Z" fill="#FADBC0"/>
<path d="M598 250Q625 255 612 300Q600 320 590 310" fill="#FADBC0"/>
<!-- hair top -->
<path d="M330 262Q298 100 470 58Q622 50 636 212Q640 300 602 342Q596 250 562 212Q500 200 466 160Q442 132 440 100Q402 200 382 250Q372 320 402 352Q340 332 330 262Z" fill="#F1AB62"/>
<path d="M466 160Q500 210 575 215" fill="none" stroke-width="4"/>
<ellipse cx="590" cy="345" rx="10" ry="16" fill="#222"/>
</g>
<circle cx="428" cy="262" r="11" fill="#111"/><circle cx="522" cy="256" r="11" fill="#111"/>
<path d="M478 262L468 312L482 316M456 352Q490 366 522 344" stroke="#1E1E1E" stroke-width="4.5" fill="none" stroke-linecap="round"/>
<!-- raised glove -->
<g stroke="#1E1E1E" stroke-width="40" stroke-linecap="round" fill="none">
<path d="M145 345L92 185M172 330L168 165M208 335L245 200M232 385L292 305M128 375L82 320"/>
</g>
<path d="M118 330L245 325L258 525L150 535Z" fill="#F5F5F5" stroke="#1E1E1E" stroke-width="5" stroke-linejoin="round"/>
<g stroke="#F5F5F5" stroke-width="31" stroke-linecap="round" fill="none">
<path d="M145 345L92 185M172 330L168 165M208 335L245 200M232 385L292 305M128 375L82 320"/>
</g>
<path d="M124 336L240 332L252 518L154 528Z" fill="#F5F5F5"/>
<path d="M152 532L252 524L254 552L154 558Z" fill="#F6B794" stroke="#1E1E1E" stroke-width="4"/>
<path d="M160 500L245 492M175 360L180 385M198 358L200 380" stroke="#9A9A9A" stroke-width="4" fill="none"/>
<!-- right gloved hand -->
<path d="M252 535Q300 498 345 540L492 668L446 752L380 692Q300 682 268 620Q250 580 252 535Z" fill="#F5F5F5" stroke="#1E1E1E" stroke-width="5" stroke-linejoin="round"/>
<path d="M268 560L330 600M270 595L325 630M285 630L330 655M455 740L485 690" stroke="#1E1E1E" stroke-width="4" fill="none" stroke-linecap="round"/>
</svg>

<svg class="ill" style="left:1370px;top:1118px" width="55" height="54" viewBox="0 0 55 54">
<g transform="translate(27.5,26.4) rotate(-45)">
<rect x="-16.2" y="-16.2" width="32.4" height="32.4" fill="#676A61"/>
<rect x="-13" y="-13" width="26" height="26" fill="#F8CD2F"/>
<path d="M-6.4 -6.9H6.8V-1.2M6.4 6.9H-6.8V1.2" stroke="#636B5B" stroke-width="2.7" fill="none"/>
<path d="M10.8 -10.2H-7.9V-3.6H4.6M-10.8 10.2H7.9V3.6H-4.6" stroke="#4A4420" stroke-width="0.9" fill="none"/>
</g>
</svg>

<h1 class="t" style="left:404.0px;top:80.3px;font-size:46.5px;font-weight:700;color:#5C4E46;letter-spacing:0.449px;-webkit-text-stroke:1.9px #5C4E46;">HOW TO BE A DOCTOR IN AUSTRALIA?</h1>
<div class="t" style="left:537.5px;top:197.2px;font-size:34px;font-weight:700;color:#5B4D45;letter-spacing:0.000px;transform:scaleX(0.8970);transform-origin:0 0;-webkit-text-stroke:0.45px #FBDEC6;">SPM</div>
<div class="t" style="left:621.5px;top:197.2px;font-size:34px;font-weight:700;color:#5B4D45;letter-spacing:0.000px;-webkit-text-stroke:0.45px #FBDEC6;">/</div>
<div class="t" style="left:650.4px;top:197.2px;font-size:34px;font-weight:700;color:#5B4D45;letter-spacing:0.000px;transform:scaleX(0.9375);transform-origin:0 0;-webkit-text-stroke:0.45px #FBDEC6;">IGCSE</div>
<div class="t" style="left:765.5px;top:197.2px;font-size:34px;font-weight:700;color:#5B4D45;letter-spacing:0.000px;-webkit-text-stroke:0.45px #FBDEC6;">/</div>
<div class="t" style="left:792.4px;top:197.2px;font-size:34px;font-weight:700;color:#5B4D45;letter-spacing:1.711px;-webkit-text-stroke:0.45px #FBDEC6;">O-Levels</div>
<div class="t" style="left:962.6px;top:197.2px;font-size:34px;font-weight:700;color:#5B4D45;letter-spacing:0.000px;-webkit-text-stroke:0.45px #FBDEC6;">/</div>
<div class="t" style="left:992.8px;top:197.2px;font-size:34px;font-weight:700;color:#5B4D45;letter-spacing:1.429px;-webkit-text-stroke:0.45px #FBDEC6;">Equivalent</div>
<div class="t" style="left:301.0px;top:366.6px;font-size:23.5px;font-weight:700;color:#5B4D45;letter-spacing:0.600px;-webkit-text-stroke:0.45px #FFFFFF;word-spacing:3.991px;">STPM/ Matriculation/</div>
<div class="t" style="left:304.0px;top:396.1px;font-size:23.5px;font-weight:700;color:#5B4D45;letter-spacing:0.120px;-webkit-text-stroke:0.45px #FFFFFF;word-spacing:5.016px;">A Levels/ Equivalent</div>
<div class="t" style="left:351.5px;top:432.2px;font-size:24px;font-weight:700;color:#0A7D3E;letter-spacing:0.120px;-webkit-text-stroke:0.45px #FFFFFF;word-spacing:2.126px;">1 - 2 years</div>
<div class="t" style="left:847.0px;top:366.8px;font-size:24.5px;font-weight:700;color:#5B4D45;letter-spacing:0.120px;-webkit-text-stroke:0.45px #FFFFFF;word-spacing:5.193px;">Bachelor + Doctor of</div>
<div class="t" style="left:886.0px;top:398.3px;font-size:24.5px;font-weight:700;color:#5B4D45;letter-spacing:0.120px;-webkit-text-stroke:0.45px #FFFFFF;word-spacing:12.998px;">Medicine (MD)</div>
<div class="t" style="left:908.0px;top:437.2px;font-size:24px;font-weight:700;color:#0A7D3E;letter-spacing:0.120px;-webkit-text-stroke:0.45px #FFFFFF;word-spacing:5.793px;">5 - 6 years</div>
<div class="t" style="left:322.5px;top:614.3px;font-size:24.5px;font-weight:700;color:#5B4D45;letter-spacing:1.310px;-webkit-text-stroke:0.45px #FFFFFF;">Medicine-related</div>
<div class="t" style="left:320.0px;top:645.8px;font-size:24.5px;font-weight:700;color:#5B4D45;letter-spacing:0.120px;-webkit-text-stroke:0.45px #FFFFFF;word-spacing:8.341px;">Bachelors Degree</div>
<div class="t" style="left:379.5px;top:682.7px;font-size:24px;font-weight:700;color:#0A7D3E;letter-spacing:0.120px;-webkit-text-stroke:0.45px #FFFFFF;word-spacing:4.030px;">3 years</div>
<div class="t" style="left:859.5px;top:614.8px;font-size:24.5px;font-weight:700;color:#5B4D45;letter-spacing:0.120px;-webkit-text-stroke:0.45px #FFFFFF;word-spacing:5.972px;">Doctor of Medicine</div>
<div class="t" style="left:945.0px;top:647.8px;font-size:24.5px;font-weight:700;color:#5B4D45;letter-spacing:2.526px;-webkit-text-stroke:0.45px #FFFFFF;">(MD)</div>
<div class="t" style="left:932.5px;top:685.7px;font-size:24px;font-weight:700;color:#0A7D3E;letter-spacing:0.120px;-webkit-text-stroke:0.45px #FFFFFF;word-spacing:3.030px;">4 years</div>
<div class="t" style="left:1490.0px;top:504.4px;font-size:25.5px;font-weight:700;color:#5B4D45;letter-spacing:0.970px;-webkit-text-stroke:0.45px #FFFFFF;">Internship</div>
<div class="t" style="left:1450.0px;top:538.8px;font-size:25px;font-weight:700;color:#0A7D3E;letter-spacing:0.120px;-webkit-text-stroke:0.45px #FFFFFF;word-spacing:1.292px;">1 year (47 weeks)</div>
<div class="t" style="left:1467.0px;top:754.4px;font-size:25.5px;font-weight:700;color:#5B4D45;letter-spacing:0.305px;-webkit-text-stroke:0.45px #FFFFFF;">Residency</div>
<div class="t" style="left:1451.5px;top:795.3px;font-size:25px;font-weight:700;color:#0A7D3E;letter-spacing:0.120px;-webkit-text-stroke:0.45px #FFFFFF;word-spacing:1.305px;">at least 1 year</div>
<div class="t" style="left:922.0px;top:941.9px;font-size:25.5px;font-weight:700;color:#5B4D45;letter-spacing:0.359px;-webkit-text-stroke:0.45px #FFFFFF;">Fellowship</div>
<div class="t" style="left:929.5px;top:977.8px;font-size:25px;font-weight:700;color:#0A7D3E;letter-spacing:0.120px;-webkit-text-stroke:0.45px #FFFFFF;word-spacing:2.157px;">3 - 7 years</div>
<div class="t" style="left:276.0px;top:930.2px;font-size:24px;font-weight:700;color:#5B4D45;letter-spacing:0.120px;-webkit-text-stroke:0.45px #FFFFFF;word-spacing:3.257px;">Practise as a General</div>
<div class="t" style="left:269.5px;top:960.2px;font-size:24px;font-weight:700;color:#5B4D45;letter-spacing:0.120px;-webkit-text-stroke:0.45px #FFFFFF;word-spacing:7.303px;">Practitioner, Specialist</div>
<div class="t" style="left:276.0px;top:991.7px;font-size:24px;font-weight:700;color:#5B4D45;letter-spacing:0.080px;-webkit-text-stroke:0.45px #FFFFFF;">Physician, or Surgeon</div>
<div class="t" style="left:369.0px;top:516.3px;font-size:18.6px;font-weight:700;color:#5B4D45;letter-spacing:0.690px;-webkit-text-stroke:0.15px #F8F6F2;">alternative pathway</div>
<div class="t" style="left:432.0px;top:540.3px;font-size:18.6px;font-weight:700;color:#5B4D45;letter-spacing:0.241px;-webkit-text-stroke:0.15px #F8F6F2;">option</div>
<div class="t" style="left:1423.0px;top:1132.5px;font-size:23px;font-weight:400;color:#111111;letter-spacing:1.040px;">Excel Education</div>
</body></html>
